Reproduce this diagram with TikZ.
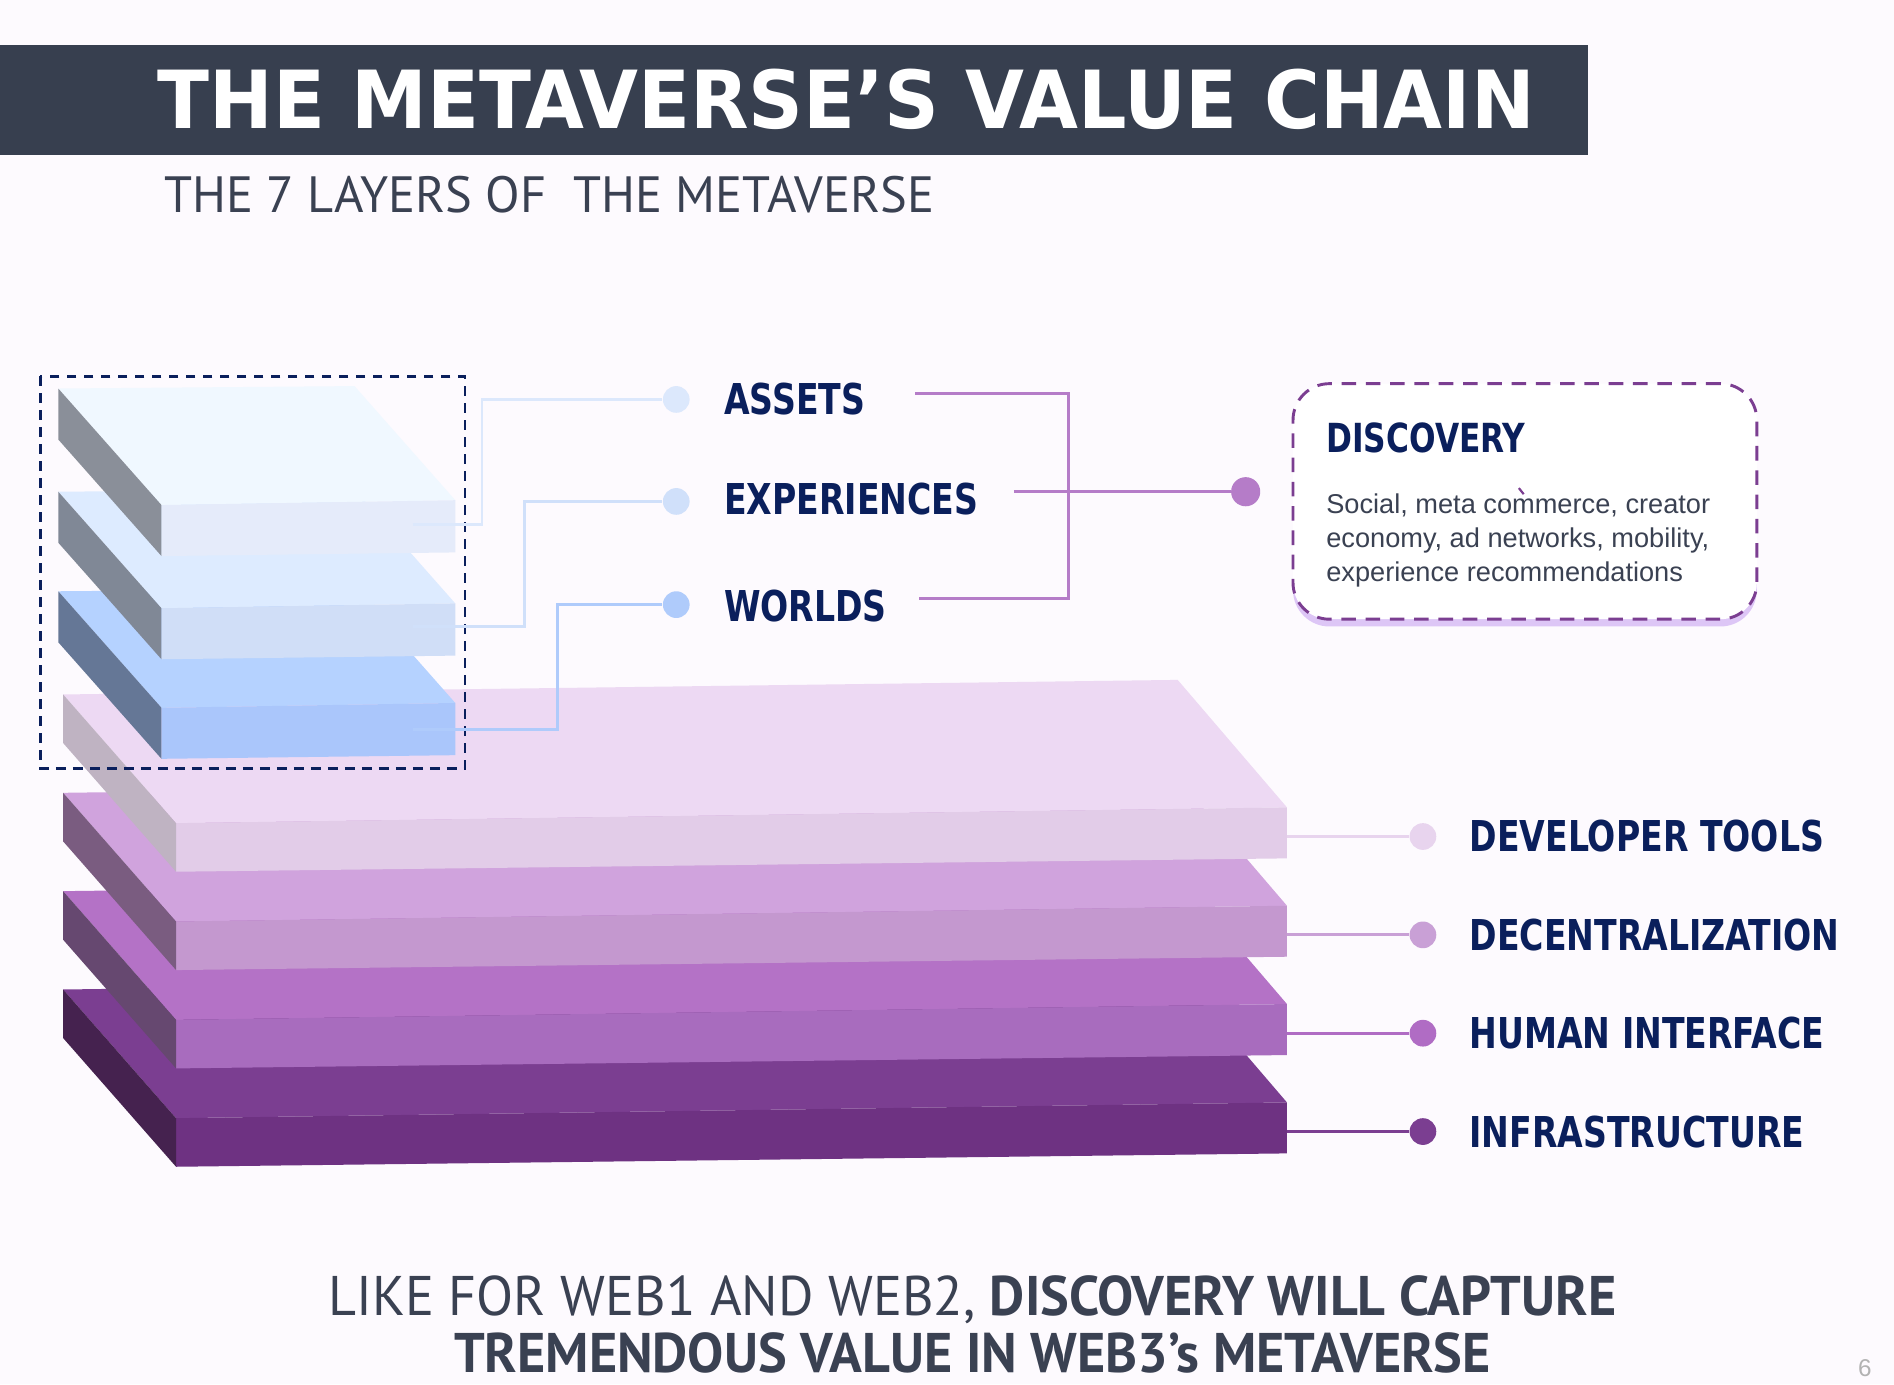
\documentclass[tikz,border=0pt]{standalone}
\usepackage{fontspec}
\setmainfont{Liberation Sans}
\newfontfamily\labfont[FakeStretch=0.78]{DejaVu Sans}
\newfontfamily\titfont[FakeStretch=0.95]{DejaVu Sans}
\newfontfamily\ptfont[FakeStretch=0.97]{PT Sans}
\newfontfamily\subfont[FakeStretch=0.99]{PT Sans}
\usetikzlibrary{shadows}
\definecolor{navy}{HTML}{0A1F5C}
\definecolor{slate}{HTML}{3A4152}
\definecolor{bar}{HTML}{373F4F}
\definecolor{bg}{HTML}{FDFAFE}
\definecolor{brk}{HTML}{B57CC8}
\definecolor{dpurp}{HTML}{7B3E91}
\definecolor{ca}{HTML}{DCE8FC}
\definecolor{ce}{HTML}{D0E0FA}
\definecolor{cw}{HTML}{AFCBFB}
\definecolor{shd}{HTML}{C9A4F2}
\tikzset{
  lab/.style={anchor=west,text=navy,font=\labfont\bfseries\fontsize{17.5}{20}\selectfont,inner sep=0},
  dot/.style={circle,inner sep=0,minimum size=11pt},
  conn/.style={line width=1.2pt},
}
\newcommand\pslab[4]{%
 \definecolor{ct}{HTML}{#2}\definecolor{cf}{HTML}{#3}\definecolor{cs}{HTML}{#4}%
 \begin{scope}[shift={(0,#1)}]
  \fill[ct] (52,572)--(970,560)--(1060,665)--(145,678)--cycle;
  \fill[cf] (145,678)--(1060,665)--(1060,707)--(145,718)--cycle;
  \fill[cs] (52,572)--(145,678)--(145,718)--(52,612)--cycle;
 \end{scope}}
\newcommand\bslab[4]{%
 \definecolor{ct}{HTML}{#2}\definecolor{cf}{HTML}{#3}\definecolor{cs}{HTML}{#4}%
 \begin{scope}[shift={(0,#1)}]
  \fill[ct] (48,320)--(292,318)--(375,412)--(133,416)--cycle;
  \fill[cf] (133,416)--(375,412)--(375,455)--(133,458)--cycle;
  \fill[cs] (48,320)--(133,416)--(133,458)--(48,362)--cycle;
 \end{scope}}
\begin{document}
\begin{tikzpicture}[x=0.5pt,y=-0.5pt]
\fill[bg] (0,0) rectangle (1560,1140);
\useasboundingbox (0,0) rectangle (1560,1140);
% title bar
\fill[bar] (0,37) rectangle (1308,128);
\node[text=white,font=\titfont\bfseries\fontsize{33}{36}\selectfont] (title) at (697,82) {THE METAVERSE’S VALUE CHAIN};
\node[anchor=west,text=slate,font=\subfont\fontsize{21}{24}\selectfont,inner sep=0] (sub) at (135,160) {THE 7 LAYERS OF \ THE METAVERSE};
% purple layers
\pslab{243}{7B3E91}{6E3282}{45224F}
\pslab{162}{B472C6}{A86CBE}{664870}
\pslab{81}{D0A3DD}{C498CF}{7A5C80}
\pslab{0}{EDD9F3}{E2CCE8}{BFB3C2}
% blue layers
\bslab{167}{B5D2FF}{AAC6FB}{657796}
\bslab{85}{DDEBFF}{D0DEF7}{808896}
\bslab{0}{F0F8FF}{E5EBFA}{8A8F99}
\draw[navy,line width=1.2pt,dash pattern=on 4pt off 3pt] (33,310) rectangle (383,633);
% blue connectors
\coordinate (sa) at (340,432);
\coordinate (se) at (340,516);
\coordinate (sw) at (340,601);
\node[dot,fill=ca] (da) at (557,329) {};
\node[dot,fill=ce] (de) at (557,413) {};
\node[dot,fill=cw] (dw) at (557,498) {};
\draw[conn,ca] (sa) -| (397,329) -- (da);
\draw[conn,ce] (se) -| (432,413) -- (de);
\draw[conn,cw] (sw) -| (459,498) -- (dw);
\node[lab] (la) at (596,329) {ASSETS};
\node[lab] (le) at (596,411) {EXPERIENCES};
\node[lab] (lw) at (596,499) {WORLDS};
% bracket
\coordinate (b1) at (754,324);
\coordinate (b2) at (757,493);
\coordinate (bm) at (835,405);
\node[dot,fill=brk,minimum size=12pt] (dd) at (1026,405) {};
\draw[conn,brk] (b1) -- (880,324) -- (880,493) -- (b2);
\draw[conn,brk] (bm) -- (dd);
% discovery box
\node[draw=dpurp,line width=1.2pt,dash pattern=on 6pt off 4pt,fill=white,rounded corners=15pt,
  minimum width=191pt,minimum height=97pt,
  drop shadow={shadow xshift=0pt,shadow yshift=-3pt,fill=shd,opacity=0.6}] (disc) at (1256,413) {};
\node[anchor=west,text=navy,font=\labfont\bfseries\fontsize{16.5}{19}\selectfont,inner sep=0] (dt) at (1092,361) {DISCOVERY};
\node[anchor=north west,text=slate,font=\fontsize{11.2}{14}\selectfont,inner sep=0,align=left] (dx) at (1092,406)
 {Social, meta commerce, creator\\economy, ad networks, mobility,\\experience recommendations};
\draw[dpurp,line width=0.9pt] (1251,402) -- (1255,407);
% right labels
\foreach \n/\yy/\c/\t in {dv/689/E8D4EE/DEVELOPER TOOLS,dc/770/C9A0D6/DECENTRALIZATION,hi/851/B06CC4/HUMAN INTERFACE,in/932/7B3E91/INFRASTRUCTURE}{
  \definecolor{cc}{HTML}{\c}
  \coordinate (s\n) at (1060,\yy);
  \node[dot,fill=cc] (d\n) at (1172,\yy) {};
  \draw[conn,cc] (s\n) -- (d\n);
  \node[lab] (l\n) at (1210,\yy) {\t};
}
% bottom text
\node[text=slate,font=\ptfont\fontsize{23}{23.5}\selectfont,align=center] (bot) at (801,1091)
 {LIKE FOR WEB1 AND WEB2, \textbf{DISCOVERY WILL CAPTURE}\\\textbf{TREMENDOUS VALUE IN WEB3’s METAVERSE}};
\node[text=gray!60,font=\fontsize{10}{12}\selectfont] (pg) at (1536,1127) {6};
\end{tikzpicture}
\end{document}
